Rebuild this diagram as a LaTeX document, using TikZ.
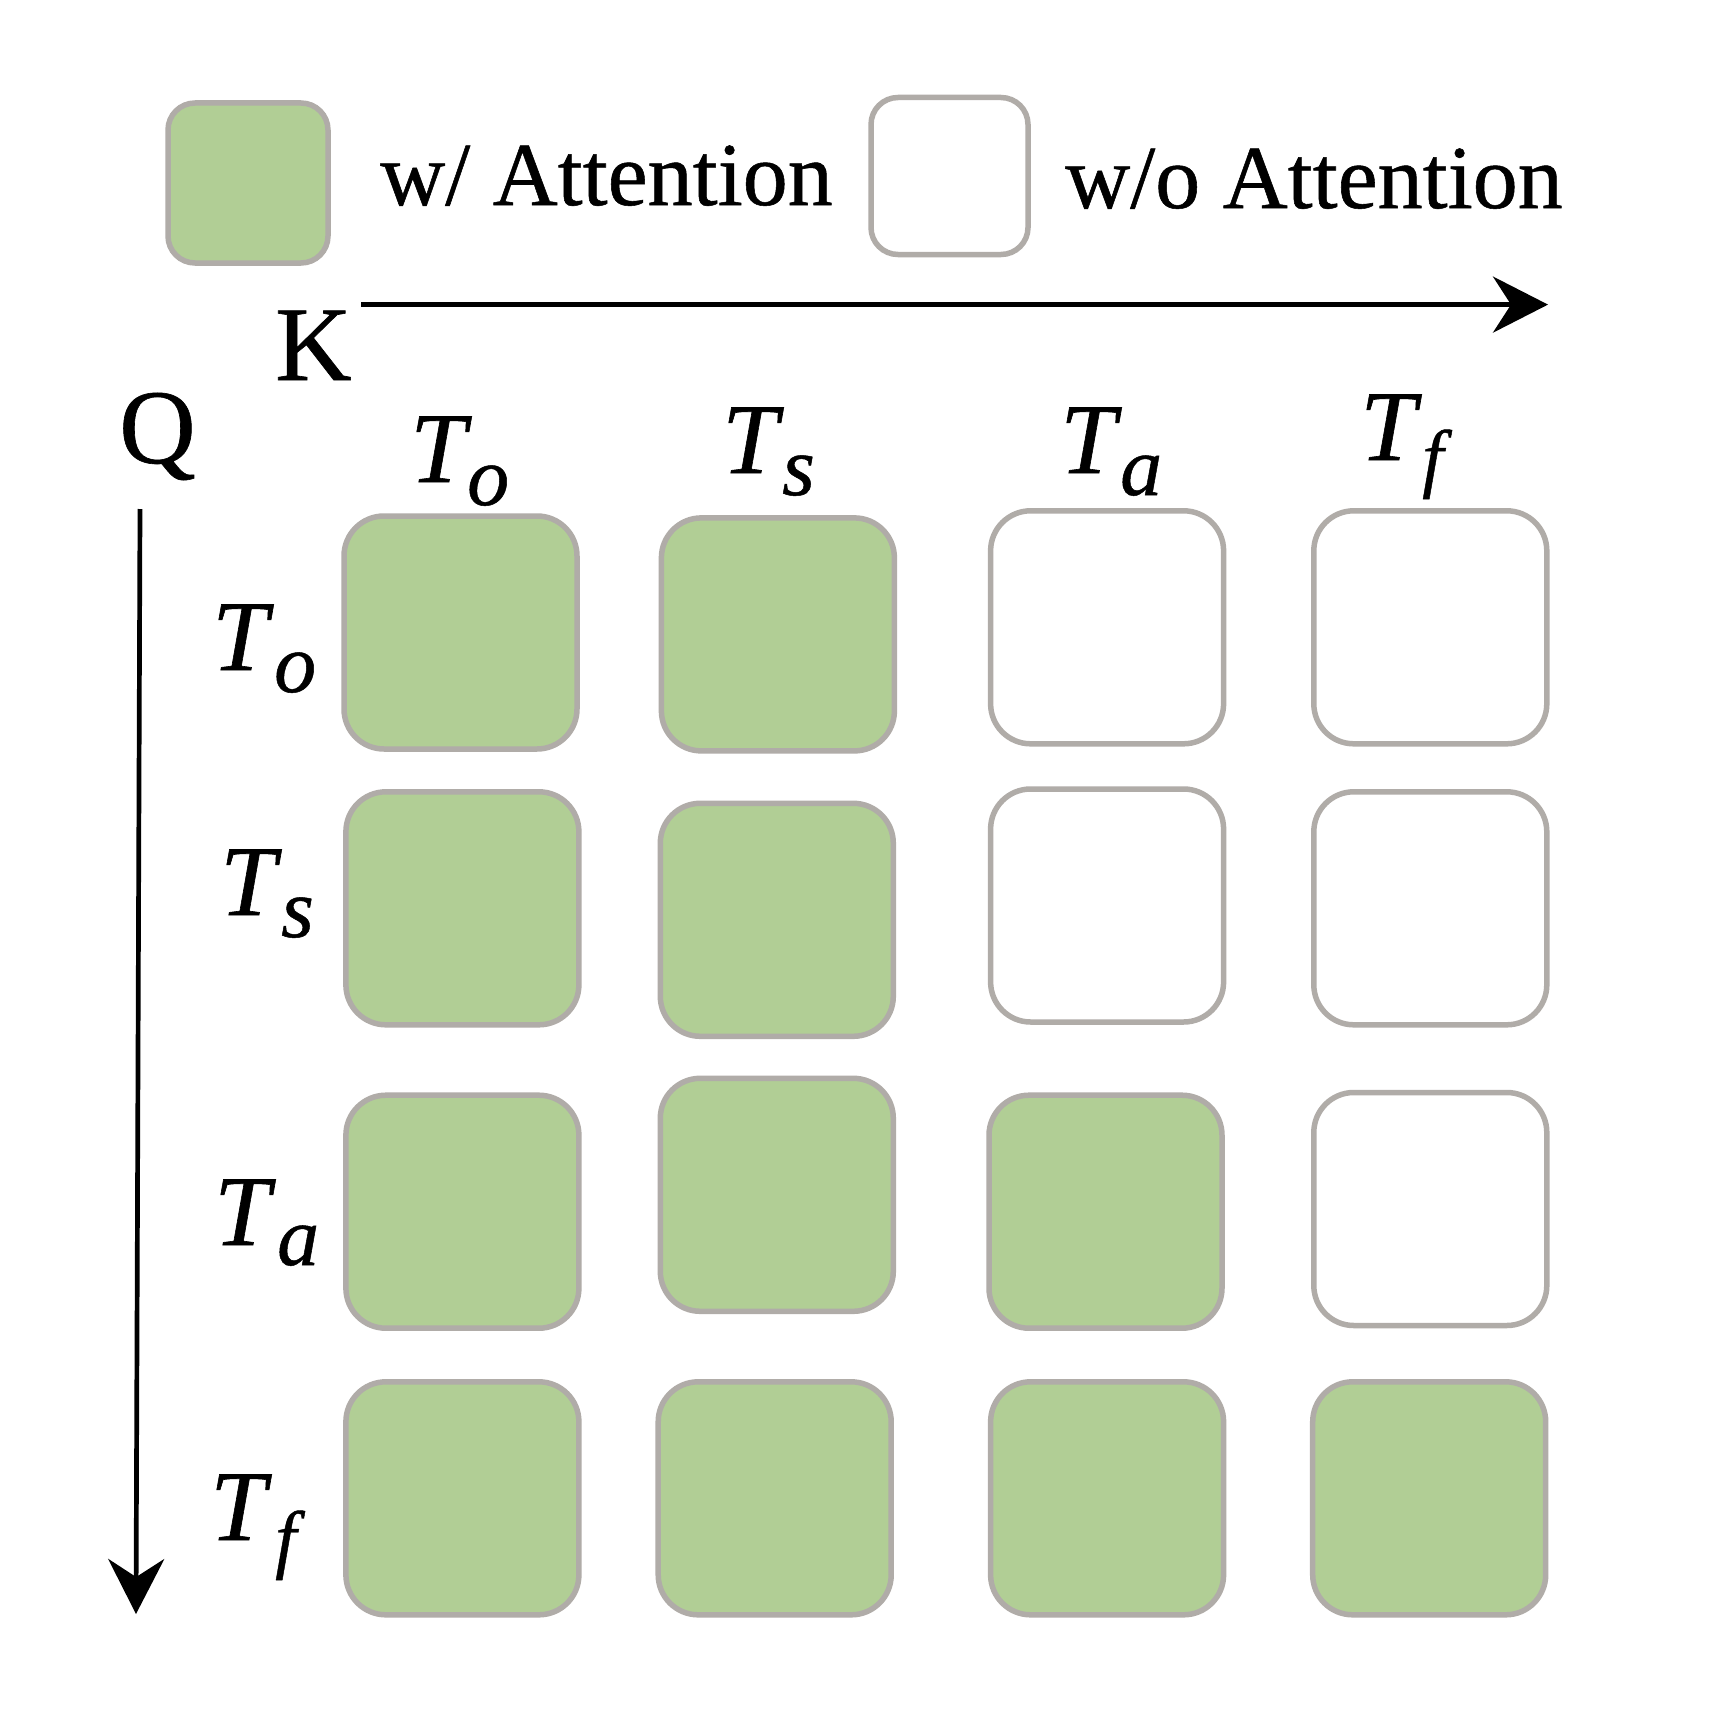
\documentclass[tikz,border=0pt]{standalone}
\usepackage{fontspec}
\setmainfont{Liberation Serif}[FakeBold=0.6]
\usetikzlibrary{arrows.meta}
\definecolor{attgreen}{HTML}{B1CE95}
\definecolor{boxgray}{HTML}{B0ACA8}
\tikzset{
  cell/.style={draw=boxgray, line width=5.5pt, rounded corners=40pt, minimum width=233pt, minimum height=233pt, inner sep=0pt},
  on/.style={cell, fill=attgreen},
  off/.style={cell, fill=white},
  legon/.style={draw=boxgray, line width=5.5pt, rounded corners=27pt, minimum size=160pt, inner sep=0pt, fill=attgreen},
  legoff/.style={draw=boxgray, line width=5.5pt, rounded corners=27pt, minimum size=157pt, inner sep=0pt, fill=white},
  lbl/.style={anchor=base west, inner sep=0pt, font=\fontsize{90pt}{100pt}\selectfont},
  axlbl/.style={anchor=base west, inner sep=0pt, font=\fontsize{106pt}{116pt}\selectfont},
  tl/.style={anchor=base west, inner sep=0pt, font=\fontsize{100pt}{110pt}\selectfont\itshape},
  sub/.style={anchor=base west, inner sep=0pt, font=\fontsize{84pt}{90pt}\selectfont\itshape},
  subf/.style={anchor=base west, inner sep=0pt, font=\fontsize{76pt}{84pt}\selectfont\itshape},
  axis/.style={line width=4.7pt, -{Stealth[length=55pt, width=56pt, inset=18pt]}}
}
\begin{document}
\begin{tikzpicture}[x=1pt,y=-1pt]
\path[use as bounding box, fill=white] (0,0) rectangle (1708,1718);
% legend
\node[legon] (lg1) at (248,183) {};
\node[lbl] (lt1) at (380,205) {w/ Attention};
\node[legoff] (lg2) at (949.5,176) {};
\node[lbl] (lt2) at (1065,208) {w/o Attention};
% axes
\coordinate (ks) at (361,304.6);
\coordinate (ke) at (1548,304.6);
\draw[axis] (ks) -- (ke);
\node[axlbl] (K) at (275,380) {K};
\coordinate (qs) at (140,509);
\coordinate (qe) at (136,1614);
\draw[axis] (qs) -- (qe);
\node[axlbl] (Q) at (119,463) {Q};
% column labels
\node[tl] (cT1) at (410,482) {T};   \node[sub] (co1) at (467,505) {o};
\node[tl] (cT2) at (722,473) {T};   \node[sub] (co2) at (782,495) {s};
\node[tl] (cT3) at (1060,473) {T};  \node[sub] (co3) at (1120,495) {a};
\node[tl] (cT4) at (1360,460) {T};  \node[subf] (co4) at (1422,483) {f};
% row labels
\node[tl] (rT1) at (212,670) {T};   \node[sub] (ro1) at (274,692) {o};
\node[tl] (rT2) at (220,915) {T};   \node[sub] (ro2) at (281,937) {s};
\node[tl] (rT3) at (214,1245) {T};  \node[sub] (ro3) at (277,1265) {a};
\node[tl] (rT4) at (210,1540) {T};  \node[subf] (ro4) at (275,1564) {f};
% grid
\node[on]  (b11) at (460.5,632.5) {};
\node[on]  (b12) at (777.9,634.4) {};
\node[off] (b13) at (1107.1,627.3) {};
\node[off] (b14) at (1430.3,627.3) {};
\node[on]  (b21) at (462.4,908.3) {};
\node[on]  (b22) at (776.8,919.8) {};
\node[off] (b23) at (1107.1,905.5) {};
\node[off] (b24) at (1430.3,908.3) {};
\node[on]  (b31) at (462.4,1211.7) {};
\node[on]  (b32) at (776.8,1194.8) {};
\node[on]  (b33) at (1105.5,1211.7) {};
\node[off] (b34) at (1430.3,1209) {};
\node[on]  (b41) at (462.4,1498.3) {};
\node[on]  (b42) at (774.7,1498.3) {};
\node[on]  (b43) at (1107.1,1498.3) {};
\node[on]  (b44) at (1429.2,1498.3) {};
\end{tikzpicture}
\end{document}
